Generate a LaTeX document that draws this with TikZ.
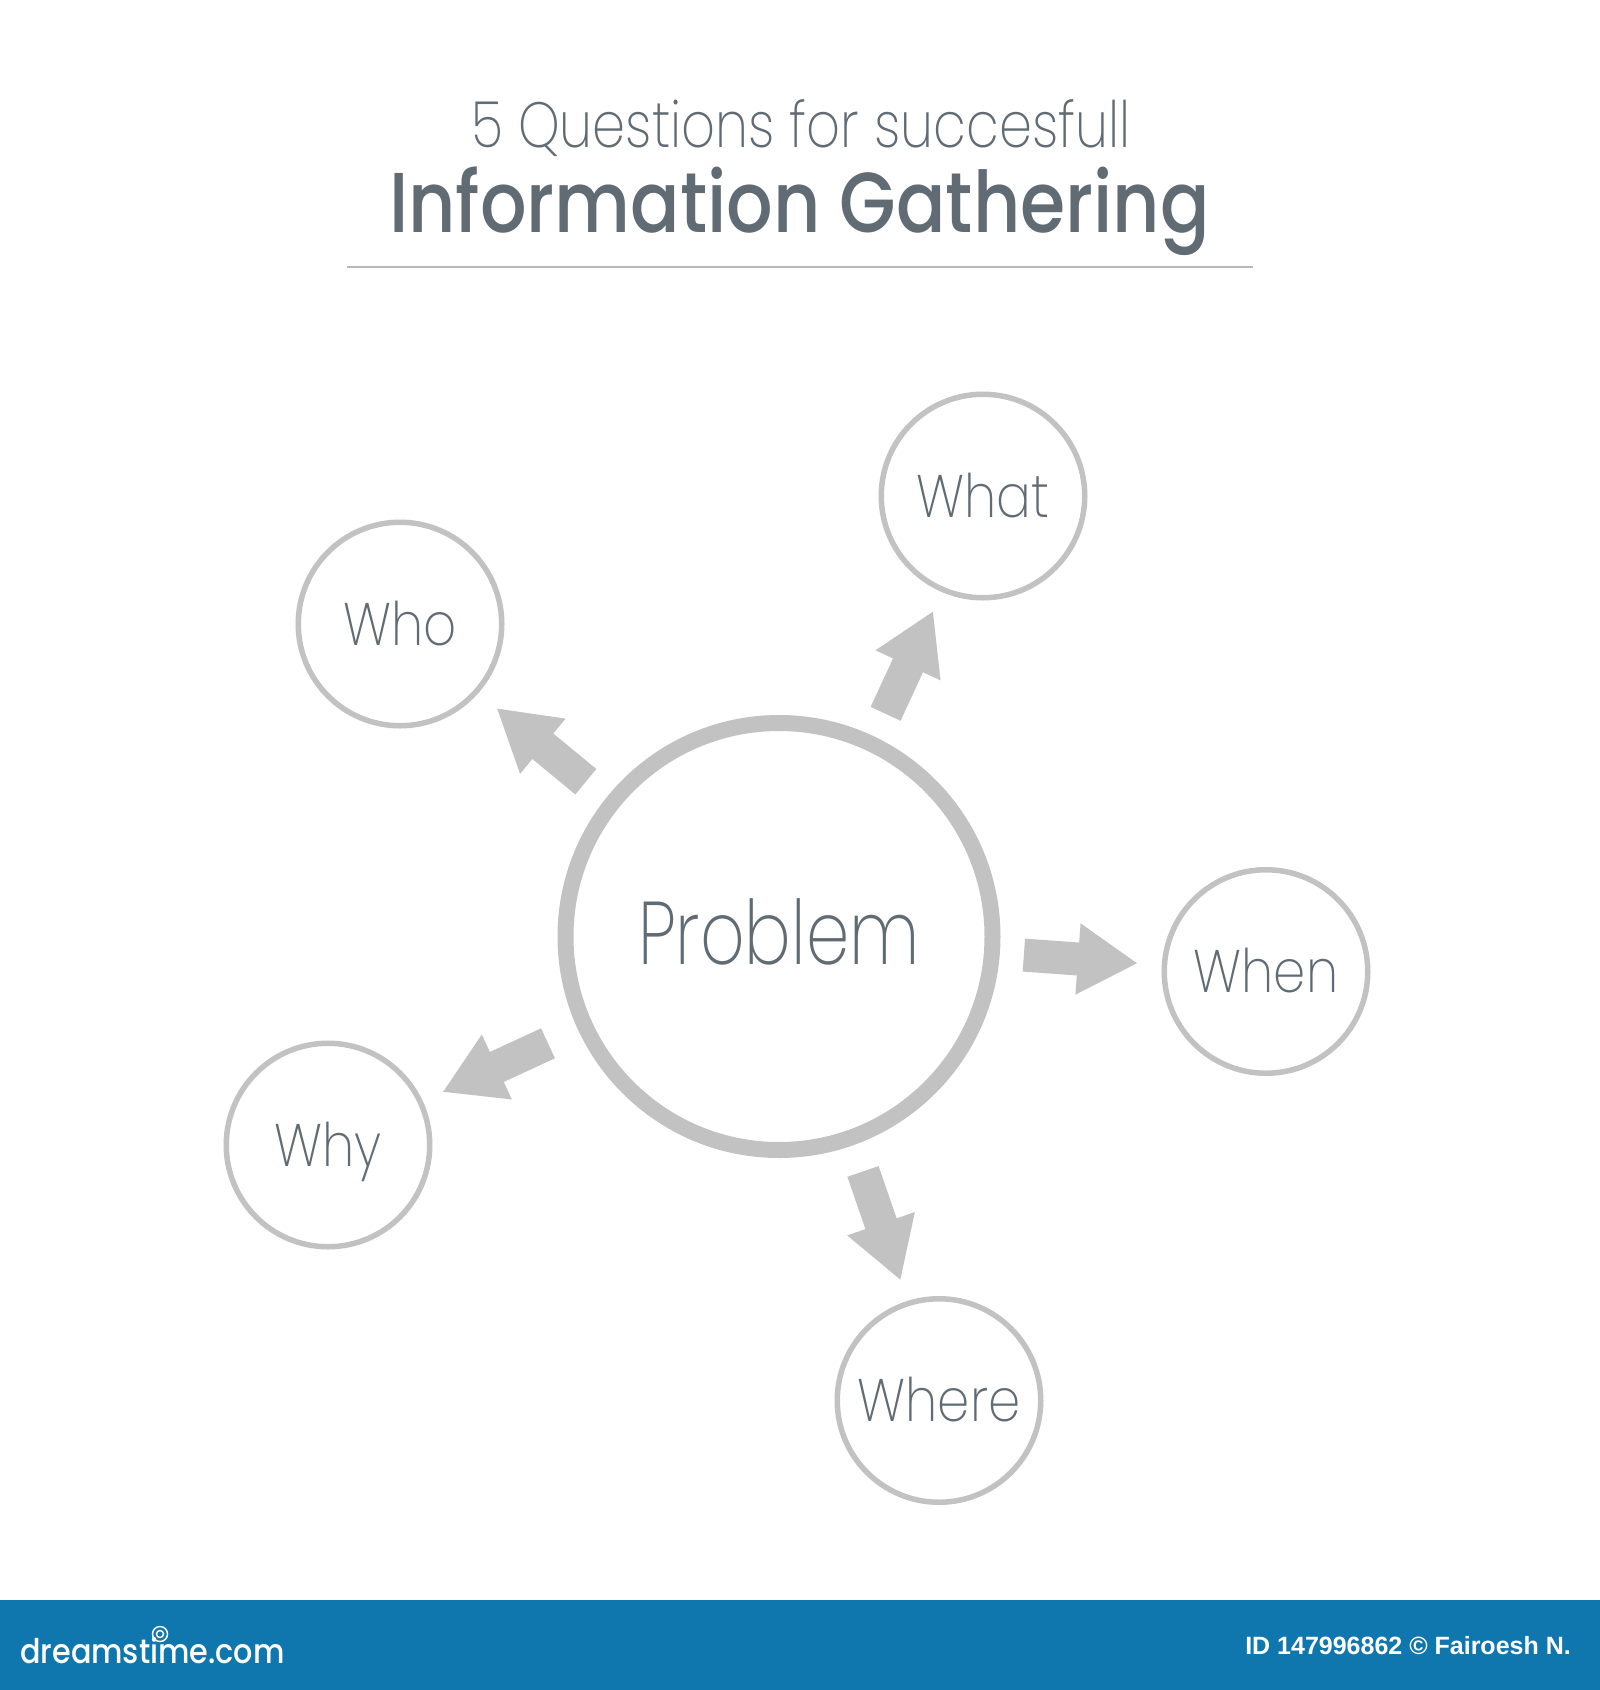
\documentclass[tikz,border=0pt]{standalone}
\usepackage{fontspec}
\setmainfont{Poppins}
\newfontfamily\subfont[UprightFont=* ExtraLight,FakeStretch=0.826]{Poppins}
\newfontfamily\labfont[UprightFont=* ExtraLight,FakeStretch=0.86]{Poppins}
\newfontfamily\bigfont[UprightFont=* ExtraLight,FakeStretch=0.78]{Poppins}
\newfontfamily\headfont[UprightFont=* Medium,FakeStretch=0.86]{Poppins}
\newfontfamily\logofont[UprightFont=* Medium,FakeStretch=0.89]{Poppins}
\newfontfamily\idfont{Liberation Sans}
\usetikzlibrary{arrows.meta}
\definecolor{ringgray}{HTML}{C2C2C2}
\definecolor{rulegray}{HTML}{B8B8B8}
\definecolor{inkgray}{HTML}{606B73}
\definecolor{bandblue}{HTML}{0F76AE}
\tikzset{
  smallq/.style={circle,draw=ringgray,line width=5.5pt,minimum size=203.5pt,inner sep=0pt,
    text=inkgray,text height=42pt,text depth=0pt,font=\labfont\fontsize{60}{60}\selectfont},
  bigq/.style={circle,draw=ringgray,line width=16pt,minimum size=427pt,inner sep=0pt,
    text=inkgray,text height=56pt,text depth=0pt,font=\bigfont\fontsize{89}{89}\selectfont},
  bigarrow/.style={draw=ringgray,line width=33pt,-{Triangle[length=60pt,width=67pt,fill=ringgray]}},
}
\begin{document}
\begin{tikzpicture}[x=1pt,y=-1pt]
\useasboundingbox (0,0) rectangle (1600,1690);
\fill[white] (0,0) rectangle (1600,1690);
\node[name=subt,anchor=base,font=\subfont\fontsize{64}{64}\selectfont,text=inkgray,inner sep=0pt] at (801,147) {5 Questions for succesfull};
\node[name=headt,anchor=base,font=\headfont\fontsize{85}{85}\selectfont,text=inkgray,inner sep=0pt] at (799.5,232) {Information Gathering};
\draw[rulegray,line width=1.5pt] (347,267) -- (1253,267);
\node[bigq] (problem) at (779,936.5) {Problem};
\node[smallq] (what) at (983,496) {What};
\node[smallq] (who) at (400,624) {Who};
\node[smallq] (when) at (1266,971.5) {When};
\node[smallq] (why) at (328,1145) {Why};
\node[smallq] (where) at (939,1400.5) {Where};
\draw[bigarrow,shorten <=25pt,shorten >=24.5pt,transform canvas={xshift=-3pt,yshift=-2pt}] (problem) -- (who);
\draw[bigarrow,shorten <=25pt,shorten >=21pt,transform canvas={xshift=3pt,yshift=-1pt}] (problem) -- (what);
\draw[bigarrow,shorten <=24pt,shorten >=24pt,transform canvas={yshift=-1pt}] (problem) -- (when);
\draw[bigarrow,shorten <=33pt,shorten >=21.5pt] (problem) -- (why);
\draw[bigarrow,shorten <=27pt,shorten >=22.5pt,transform canvas={xshift=3pt}] (problem) -- (where);
\fill[bandblue] (0,1600) rectangle (1600,1690);
\node[name=logo,anchor=base west,inner sep=0pt,text=white,font=\logofont\fontsize{34}{34}\selectfont] at (20,1663) {dreamstime.com};
\node[name=spiral,circle,draw=white,line width=1.5pt,minimum size=15pt,inner sep=0pt] at (160,1634) {};
\node[name=spiralin,circle,draw=white,line width=1.5pt,minimum size=7pt,inner sep=0pt] at (160,1634) {};
\node[name=idtext,anchor=base east,inner sep=0pt,text=white,font=\idfont\bfseries\fontsize{25}{25}\selectfont] at (1571,1654) {ID 147996862 © Fairoesh N.};
\end{tikzpicture}
\end{document}
